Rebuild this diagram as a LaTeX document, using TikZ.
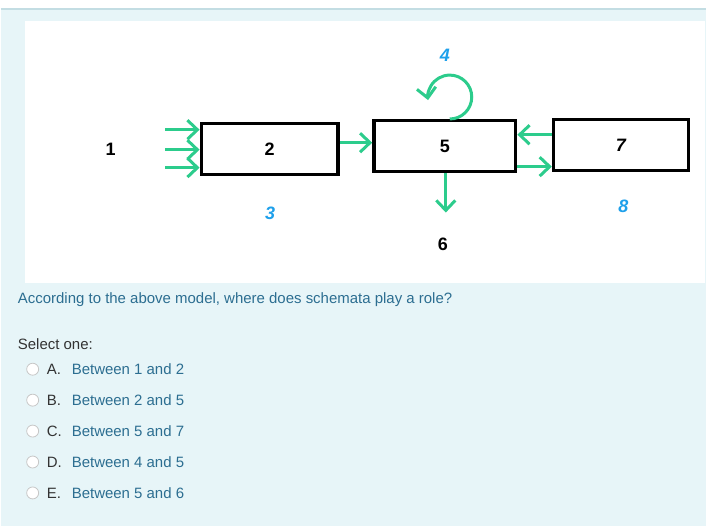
\documentclass[tikz,border=0pt]{standalone}
\usepackage{fontspec}
\setmainfont{Liberation Sans}
\usetikzlibrary{arrows.meta}

\definecolor{flowgreen}{RGB}{44,204,140}
\definecolor{labelblue}{RGB}{30,160,235}
\definecolor{textblue}{RGB}{44,110,145}
\definecolor{pageblue}{RGB}{231,245,248}
\definecolor{rulegray}{RGB}{195,221,227}

\begin{document}
\begin{tikzpicture}[x=1pt,y=1pt]
    \tikzstyle{block} = [rectangle,minimum height=51pt,line width=3.5pt,draw=black,fill=white,font=\fontsize{18}{18}\selectfont\bfseries]
    \tikzstyle{flow} = [draw=flowgreen,line width=3pt,-{Straight Barb[length=10pt,width=19pt]}]
    \tikzstyle{number} = [font=\fontsize{18}{18}\selectfont\bfseries]
    \tikzstyle{tag} = [font=\fontsize{18}{18}\selectfont\bfseries\itshape,text=labelblue]
    \tikzstyle{answer} = [anchor=west,inner sep=0pt,font=\fontsize{15}{18}\selectfont]
    \tikzstyle{radio} = [circle,minimum size=12pt,inner sep=0pt,line width=0.8pt,draw=black!22,fill=white]
    % page
    \fill[pageblue] (0,0) rectangle (707,518);
    \draw[rulegray,line width=1.5pt] (0,518) -- (707,518);
    \fill[white] (24,243) rectangle (706,506);
    \useasboundingbox (0,0) rectangle (707,527);
    % model
    \node (box2)[block,minimum width=137pt] at (269.5,377.5){2};
    \node (box5)[block,minimum width=142pt] at (445,380.5){5};
    \node (box7)[block,minimum width=135pt,font=\fontsize{18}{18}\selectfont\bfseries\itshape] at (621.5,381.5){7};
    \node (one)[number] at (110,377){1};
    \node (six)[number] at (443,282){6};
    \node (three)[tag] at (270,313){3};
    \node (four)[tag] at (445,472){4};
    \node (eight)[tag] at (624,320){8};
    \coordinate (in1) at (165,397);
    \coordinate (in2) at (165,377);
    \coordinate (in3) at (165,359);
    \coordinate (out6) at (446,314);
    \draw [flow] (in1) -- ([yshift=19.5pt]box2.west);
    \draw [flow] (in2) -- ([yshift=-0.5pt]box2.west);
    \draw [flow] (in3) -- ([yshift=-18.5pt]box2.west);
    \draw [flow] ([yshift=6.5pt]box2.east) -- ([yshift=3.5pt]box5.west);
    \draw [flow] ([xshift=5pt]box5.north) arc[start angle=-90,end angle=188,radius=22pt];
    \draw [flow] ([xshift=1pt]box5.south) -- (out6);
    \draw [flow] ([yshift=10.5pt]box7.west) -- ([yshift=11.5pt]box5.east);
    \draw [flow] ([yshift=-20.5pt]box5.east) -- ([yshift=-21.5pt]box7.west);
    % question
    \node (question)[answer,text=textblue] at (17,227){According to the above model, where does schemata play a role?};
    \node (select)[answer,text=black!80] at (17,182){Select one:};
    \node (radioA)[radio] at (32,157){};
    \node (letterA)[answer,text=black!80] at (46,157){A.};
    \node (optionA)[answer,text=textblue] at (71,157){Between 1 and 2};
    \node (radioB)[radio] at (32,126){};
    \node (letterB)[answer,text=black!80] at (46,126){B.};
    \node (optionB)[answer,text=textblue] at (71,126){Between 2 and 5};
    \node (radioC)[radio] at (32,95){};
    \node (letterC)[answer,text=black!80] at (46,95){C.};
    \node (optionC)[answer,text=textblue] at (71,95){Between 5 and 7};
    \node (radioD)[radio] at (32,64){};
    \node (letterD)[answer,text=black!80] at (46,64){D.};
    \node (optionD)[answer,text=textblue] at (71,64){Between 4 and 5};
    \node (radioE)[radio] at (32,33){};
    \node (letterE)[answer,text=black!80] at (46,33){E.};
    \node (optionE)[answer,text=textblue] at (71,33){Between 5 and 6};
\end{tikzpicture}
\end{document}
